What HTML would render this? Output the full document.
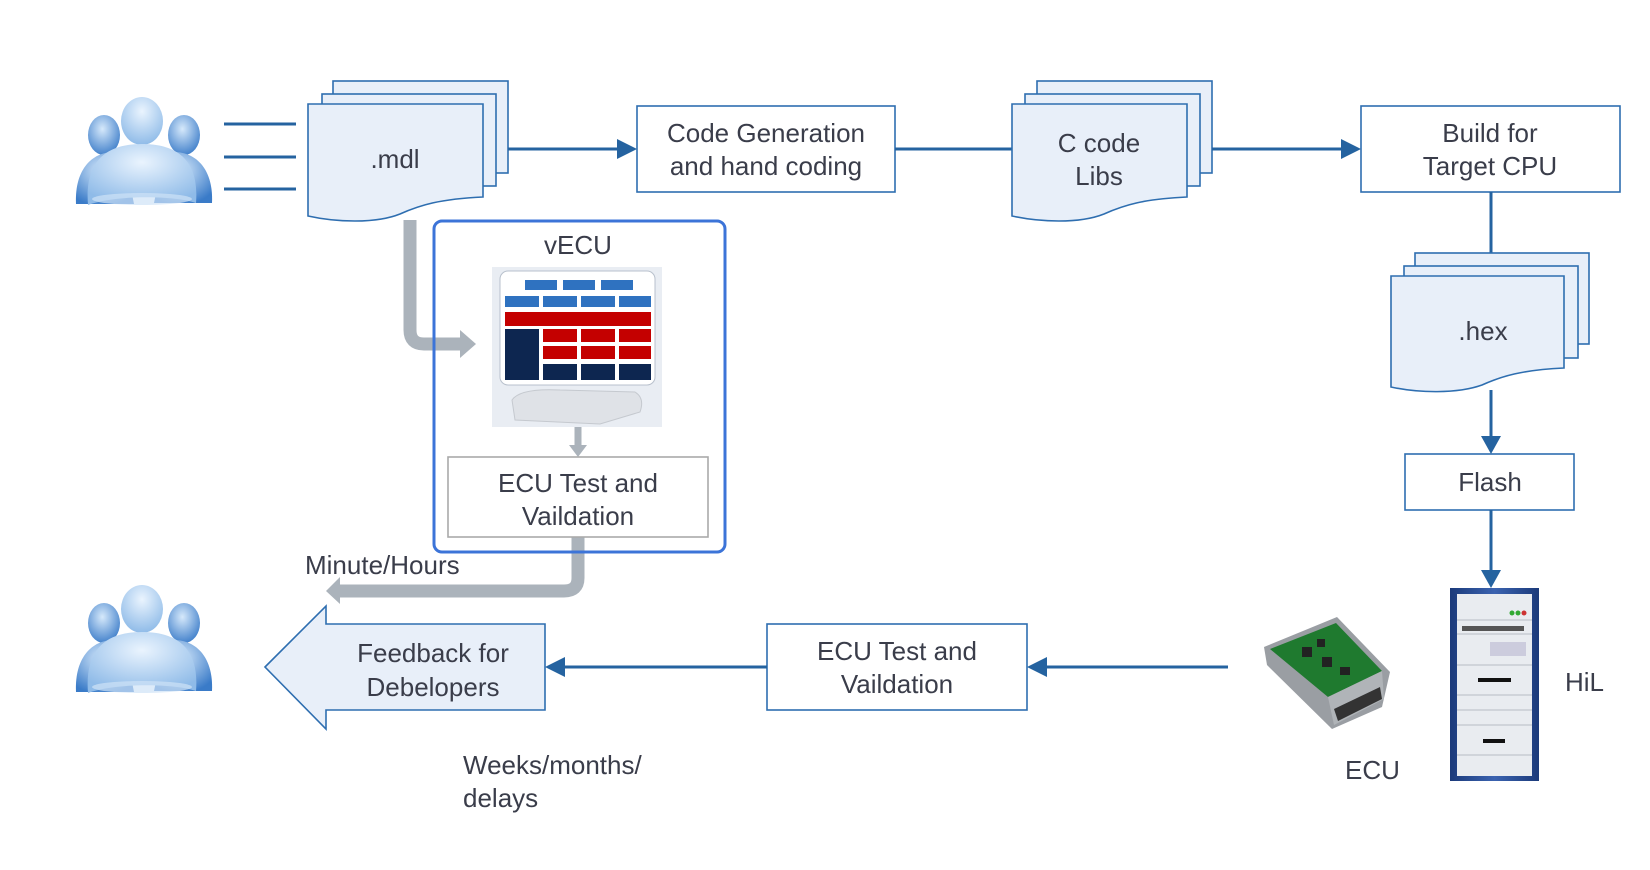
<!DOCTYPE html>
<html><head><meta charset="utf-8"><style>
html,body{margin:0;padding:0;background:#fff;}
svg{display:block;}
text{font-family:"Liberation Sans",sans-serif;fill:#3a3d4a;font-size:26px;}
</style></head><body>
<svg width="1650" height="870" viewBox="0 0 1650 870" xmlns="http://www.w3.org/2000/svg">
<defs>
<radialGradient id="pb" cx="45%" cy="35%" r="70%"><stop offset="0" stop-color="#d6e9fb"/><stop offset="1" stop-color="#3a7bc8"/></radialGradient>
<radialGradient id="pc" cx="50%" cy="30%" r="70%"><stop offset="0" stop-color="#eaf4fe"/><stop offset="1" stop-color="#8fbbe8"/></radialGradient>
<linearGradient id="hil" x1="0" x2="1"><stop offset="0" stop-color="#1b3a7a"/><stop offset="0.5" stop-color="#3b63b0"/><stop offset="1" stop-color="#1b3a7a"/></linearGradient>
<g id="people">
 <ellipse cx="30" cy="36" rx="16" ry="20" fill="url(#pb)"/>
 <ellipse cx="110" cy="36" rx="16" ry="20" fill="url(#pb)"/>
 <path d="M2,105 C0,60 30,48 50,55 L60,105 Z" fill="url(#pb)"/>
 <path d="M138,104 C140,60 110,48 90,55 L80,104 Z" fill="url(#pb)"/>
 <ellipse cx="68" cy="22" rx="21" ry="24" fill="url(#pc)"/>
 <path d="M14,106 C10,55 40,45 68,45 C96,45 126,55 122,104 C100,96 40,96 14,106 Z" fill="url(#pc)"/>
 <ellipse cx="68" cy="100" rx="50" ry="6" fill="#cfe3f7" opacity="0.7"/>
</g>
</defs>

<use href="#people" x="74" y="99"/>
<g stroke="#2563a0" stroke-width="3">
<line x1="224" y1="124" x2="296" y2="124"/><line x1="224" y1="157" x2="296" y2="157"/><line x1="224" y1="189" x2="296" y2="189"/>
</g>

<g fill="#e8eff9" stroke="#2e6eb0" stroke-width="1.6">
<rect x="333" y="81" width="175" height="92"/>
<rect x="322" y="94" width="174" height="92"/>
<path d="M308,104 H483 V197 C440,199 420,205 400,214 C375,224 335,222 308,216 Z"/>
</g>
<text x="395" y="168" text-anchor="middle">.mdl</text>

<line x1="508" y1="149" x2="620" y2="149" stroke="#2563a0" stroke-width="3"/>
<polygon points="617,139 637,149 617,159" fill="#2563a0"/>
<rect x="637" y="106" width="258" height="86" fill="#fff" stroke="#2e6eb0" stroke-width="1.6"/>
<text x="766" y="142" text-anchor="middle">Code Generation</text>
<text x="766" y="175" text-anchor="middle">and hand coding</text>

<line x1="895" y1="149" x2="1012" y2="149" stroke="#2563a0" stroke-width="3"/>

<g fill="#e8eff9" stroke="#2e6eb0" stroke-width="1.6">
<rect x="1037" y="81" width="175" height="92"/>
<rect x="1025" y="94" width="175" height="92"/>
<path d="M1012,104 H1187 V197 C1144,199 1124,205 1104,214 C1079,224 1039,222 1012,216 Z"/>
</g>
<text x="1099" y="152" text-anchor="middle">C code</text>
<text x="1099" y="185" text-anchor="middle">Libs</text>

<line x1="1212" y1="149" x2="1345" y2="149" stroke="#2563a0" stroke-width="3"/>
<polygon points="1341,139 1361,149 1341,159" fill="#2563a0"/>
<rect x="1361" y="106" width="259" height="86" fill="#fff" stroke="#2e6eb0" stroke-width="1.6"/>
<text x="1490" y="142" text-anchor="middle">Build for</text>
<text x="1490" y="175" text-anchor="middle">Target CPU</text>

<line x1="1491" y1="192" x2="1491" y2="253" stroke="#2563a0" stroke-width="3"/>

<g fill="#e8eff9" stroke="#2e6eb0" stroke-width="1.6">
<rect x="1415" y="253" width="174" height="91"/>
<rect x="1404" y="266" width="174" height="92"/>
<path d="M1391,276 H1564 V368 C1522,370 1502,376 1482,385 C1457,394 1418,393 1391,387 Z"/>
</g>
<text x="1483" y="340" text-anchor="middle">.hex</text>

<line x1="1491" y1="390" x2="1491" y2="440" stroke="#2563a0" stroke-width="3"/>
<polygon points="1481,436 1491,454 1501,436" fill="#2563a0"/>
<rect x="1405" y="454" width="169" height="56" fill="#fff" stroke="#2e6eb0" stroke-width="1.6"/>
<text x="1490" y="491" text-anchor="middle">Flash</text>
<line x1="1491" y1="510" x2="1491" y2="572" stroke="#2563a0" stroke-width="3"/>
<polygon points="1481,570 1491,588 1501,570" fill="#2563a0"/>

<rect x="1450" y="588" width="89" height="193" fill="url(#hil)"/>
<rect x="1457" y="594" width="75" height="182" fill="#e9ecf0"/>
<g stroke="#b8bcc4" stroke-width="1" fill="none">
<line x1="1457" y1="620" x2="1532" y2="620"/><line x1="1457" y1="634" x2="1532" y2="634"/>
<line x1="1457" y1="665" x2="1532" y2="665"/><line x1="1457" y1="695" x2="1532" y2="695"/>
<line x1="1457" y1="710" x2="1532" y2="710"/><line x1="1457" y1="725" x2="1532" y2="725"/>
<line x1="1457" y1="755" x2="1532" y2="755"/>
</g>
<rect x="1462" y="626" width="62" height="5" fill="#555"/>
<rect x="1490" y="642" width="36" height="14" fill="#ccd" />
<rect x="1478" y="678" width="33" height="4" fill="#111"/>
<rect x="1483" y="739" width="22" height="4" fill="#111"/>
<circle cx="1518" cy="613" r="2.5" fill="#3a3"/><circle cx="1512" cy="613" r="2.5" fill="#3a3"/><circle cx="1524" cy="613" r="2.5" fill="#c33"/>
<text x="1565" y="691">HiL</text>

<g transform="translate(1262,617)">
<polygon points="2,30 75,0 128,55 120,90 70,112 5,48" fill="#9a9ea3"/>
<polygon points="8,32 74,6 120,54 66,80" fill="#1f7a2f"/>
<g fill="#222"><rect x="40" y="30" width="10" height="10"/><rect x="60" y="40" width="10" height="10"/><rect x="55" y="22" width="8" height="8"/><rect x="78" y="50" width="10" height="8"/></g>
<polygon points="66,80 120,54 122,82 72,108" fill="#b0b4b8"/>
<polygon points="72,92 118,70 120,82 76,104" fill="#333"/>
</g>
<text x="1345" y="779">ECU</text>

<line x1="1228" y1="667" x2="1045" y2="667" stroke="#2563a0" stroke-width="3"/>
<polygon points="1047,657 1027,667 1047,677" fill="#2563a0"/>
<rect x="767" y="624" width="260" height="86" fill="#fff" stroke="#2e6eb0" stroke-width="1.6"/>
<text x="897" y="660" text-anchor="middle">ECU Test and</text>
<text x="897" y="693" text-anchor="middle">Vaildation</text>
<line x1="767" y1="667" x2="563" y2="667" stroke="#2563a0" stroke-width="3"/>
<polygon points="565,657 545,667 565,677" fill="#2563a0"/>

<path d="M265,667 L326,606 V624 H545 V710 H326 V729 Z" fill="#e8eff9" stroke="#2e6eb0" stroke-width="1.6"/>
<text x="433" y="662" text-anchor="middle">Feedback for</text>
<text x="433" y="696" text-anchor="middle">Debelopers</text>
<text x="463" y="774">Weeks/months/</text>
<text x="463" y="807">delays</text>

<use href="#people" x="74" y="587"/>

<path d="M410,220 V330 Q410,344 424,344 H462" fill="none" stroke="#abb3bb" stroke-width="13"/>
<polygon points="460,330 476,344 460,358" fill="#abb3bb"/>
<line x1="578" y1="427" x2="578" y2="447" stroke="#abb3bb" stroke-width="7"/>
<polygon points="569,445 578,457 587,445" fill="#abb3bb"/>
<path d="M578,537 V578 Q578,591 564,591 H338" fill="none" stroke="#abb3bb" stroke-width="13"/>
<polygon points="340,577 326,591 340,604" fill="#abb3bb"/>
<text x="305" y="574">Minute/Hours</text>

<rect x="434" y="221" width="291" height="331" rx="8" fill="none" stroke="#3c74d8" stroke-width="3"/>
<text x="578" y="254" text-anchor="middle">vECU</text>
<rect x="492" y="267" width="170" height="160" fill="#e9edf3"/>
<rect x="500" y="271" width="155" height="114" rx="8" fill="#fff" stroke="#b8c0cc"/>
<g fill="#2f72c0">
<rect x="525" y="280" width="32" height="10"/><rect x="563" y="280" width="32" height="10"/><rect x="601" y="280" width="32" height="10"/>
<rect x="505" y="296" width="34" height="11"/><rect x="543" y="296" width="34" height="11"/><rect x="581" y="296" width="34" height="11"/><rect x="619" y="296" width="32" height="11"/>
</g>
<rect x="505" y="312" width="146" height="14" fill="#c40000"/>
<rect x="505" y="329" width="34" height="51" fill="#0d2650"/>
<g fill="#c40000">
<rect x="543" y="329" width="34" height="13"/><rect x="581" y="329" width="34" height="13"/><rect x="619" y="329" width="32" height="13"/>
<rect x="543" y="346" width="34" height="13"/><rect x="581" y="346" width="34" height="13"/><rect x="619" y="346" width="32" height="13"/>
</g>
<g fill="#0d2650">
<rect x="543" y="364" width="34" height="16"/><rect x="581" y="364" width="34" height="16"/><rect x="619" y="364" width="32" height="16"/>
</g>
<path d="M512,400 Q520,388 560,390 L635,392 Q645,398 640,412 L600,424 L515,420 Z" fill="#dfe2e7" stroke="#c5c9cf"/>
<rect x="448" y="457" width="260" height="80" fill="#fff" stroke="#aaaaaa" stroke-width="1.6"/>
<text x="578" y="492" text-anchor="middle">ECU Test and</text>
<text x="578" y="525" text-anchor="middle">Vaildation</text>
</svg>
</body></html>
